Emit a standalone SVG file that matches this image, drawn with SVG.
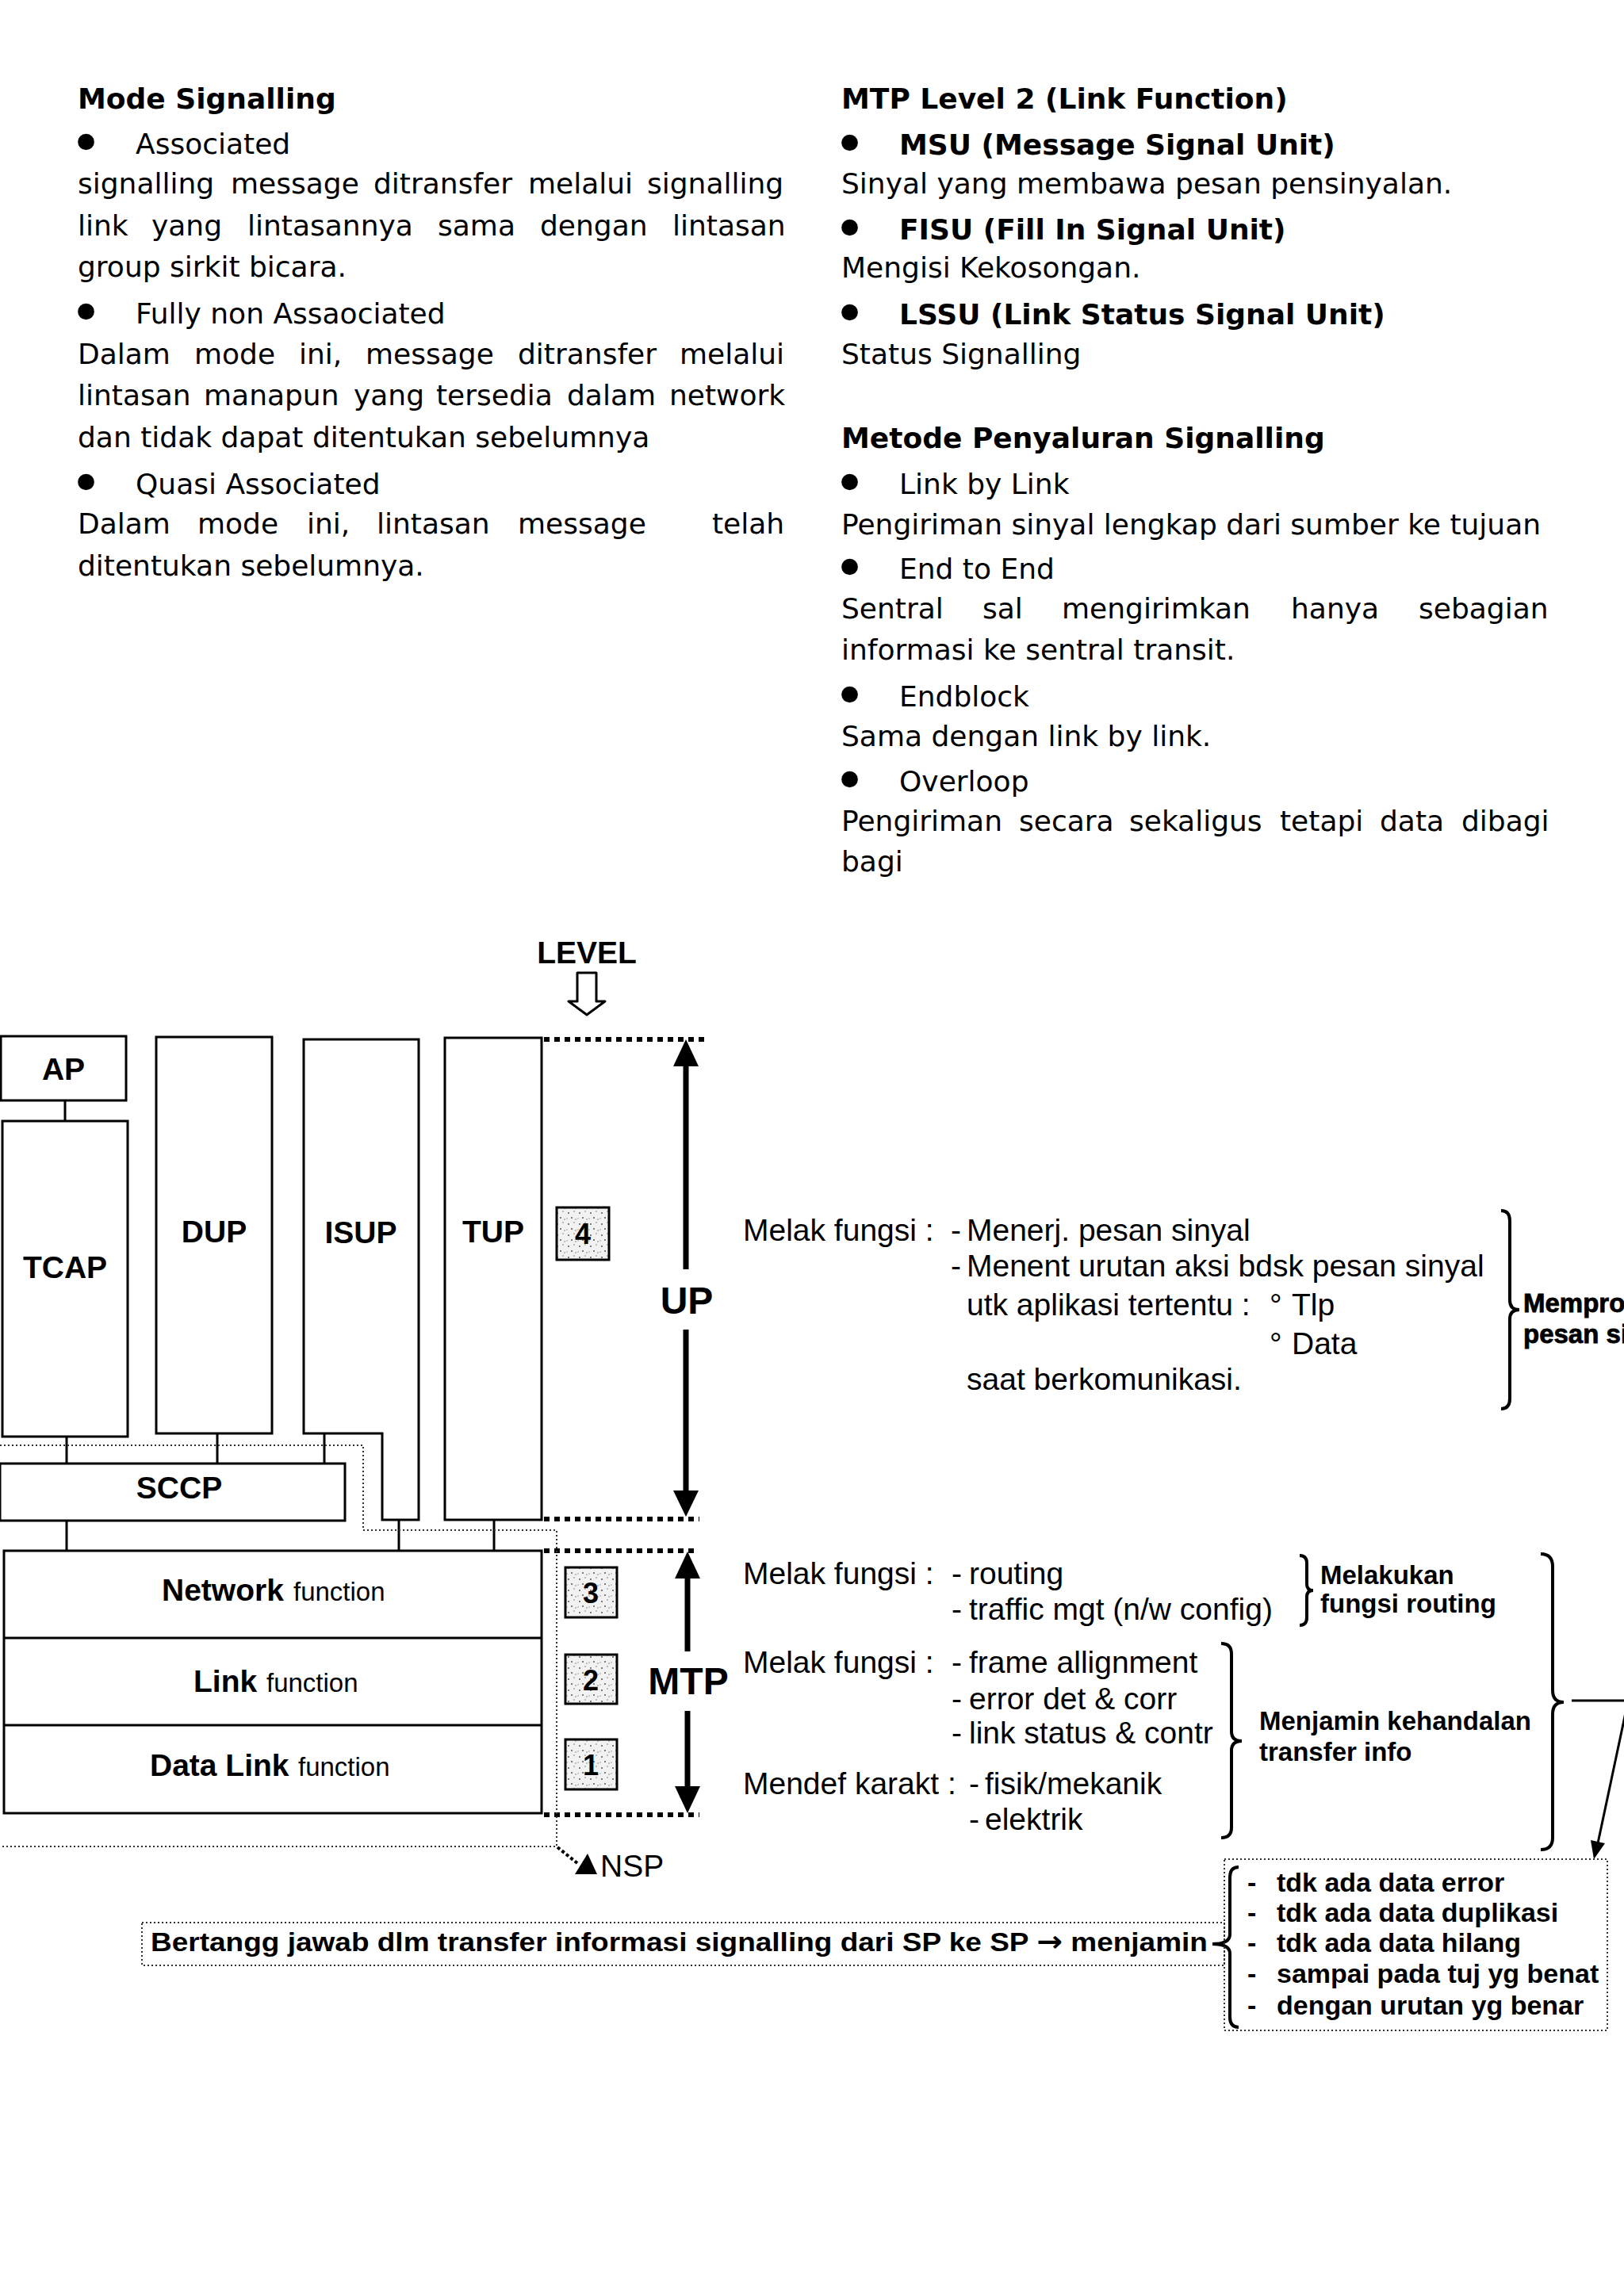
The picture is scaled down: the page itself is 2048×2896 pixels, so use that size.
<svg xmlns="http://www.w3.org/2000/svg" width="2048" height="2896" viewBox="0 0 2048 2896">
<defs>
<pattern id="stip" width="14" height="14" patternUnits="userSpaceOnUse">
<rect width="14" height="14" fill="#f2f2f2"/>
<circle cx="3" cy="4" r="1" fill="#555"/>
<circle cx="10" cy="2" r="0.8" fill="#777"/>
<circle cx="7" cy="10" r="1" fill="#555"/>
<circle cx="12" cy="12" r="0.8" fill="#777"/>
<circle cx="1" cy="11" r="0.7" fill="#888"/>
</pattern>
</defs>
<style>
.doc{font-family:"DejaVu Sans",sans-serif;font-size:36px;fill:#000}
.docb{font-family:"DejaVu Sans",sans-serif;font-size:36px;font-weight:bold;fill:#000}
.bul{font-family:"DejaVu Sans",sans-serif;font-size:56px;fill:#000;stroke:#000;stroke-width:4.5}
.box{fill:#fff;stroke:#000;stroke-width:3}
.lbl{font-family:"Liberation Sans",Arial,sans-serif;font-weight:bold;font-size:39px;text-anchor:middle;fill:#000}
.big{font-family:"Liberation Sans",Arial,sans-serif;font-weight:bold;font-size:48px;text-anchor:middle;fill:#000}
.fb{font-family:"Liberation Sans",Arial,sans-serif;font-weight:bold;font-size:39px;fill:#000}
.fr{font-family:"Liberation Sans",Arial,sans-serif;font-size:33px;fill:#000}
.ann{font-family:"Liberation Sans",Arial,sans-serif;font-size:39px;fill:#000}
.annb{font-family:"Liberation Sans",Arial,sans-serif;font-weight:bold;font-size:33px;fill:#000}
.lst{font-family:"Liberation Sans",Arial,sans-serif;font-weight:bold;font-size:34px;fill:#000}
.con{stroke:#000;stroke-width:3;fill:none}
.lvl{stroke:#000;stroke-width:6;stroke-dasharray:7 6;fill:none}
.dot{stroke:#333;stroke-width:2;stroke-dasharray:2 3;fill:none}
.brace{stroke:#000;stroke-width:4;fill:none}
.shaft{stroke:#000;stroke-width:7}
.num{fill:url(#stip);stroke:#000;stroke-width:3}
.numt{font-family:"Liberation Sans",Arial,sans-serif;font-weight:bold;font-size:36px;text-anchor:middle;fill:#000}
</style>
<rect width="2048" height="2896" fill="#fff"/>

<g id="text-mode-signalling">
<text class="docb" x="98" y="137">Mode Signalling</text>
<text class="bul" x="92" y="200">•</text>
<text class="doc" x="171" y="194">Associated</text>
<text class="doc" y="244"><tspan x="98">signalling</tspan><tspan x="291">message</tspan><tspan x="471">ditransfer</tspan><tspan x="666">melalui</tspan><tspan x="816">signalling</tspan></text>
<text class="doc" y="297"><tspan x="98">link</tspan><tspan x="191">yang</tspan><tspan x="312">lintasannya</tspan><tspan x="552">sama</tspan><tspan x="681">dengan</tspan><tspan x="848">lintasan</tspan></text>
<text class="doc" x="98" y="349">group sirkit bicara.</text>
<text class="bul" x="92" y="414">•</text>
<text class="doc" x="171" y="408">Fully non Assaociated</text>
<text class="doc" y="459"><tspan x="98">Dalam</tspan><tspan x="245">mode</tspan><tspan x="377">ini,</tspan><tspan x="461">message</tspan><tspan x="653">ditransfer</tspan><tspan x="857">melalui</tspan></text>
<text class="doc" y="511"><tspan x="98">lintasan</tspan><tspan x="257">manapun</tspan><tspan x="446">yang</tspan><tspan x="550">tersedia</tspan><tspan x="715">dalam</tspan><tspan x="844">network</tspan></text>
<text class="doc" x="98" y="564">dan tidak dapat ditentukan sebelumnya</text>
<text class="bul" x="92" y="629">•</text>
<text class="doc" x="171" y="623">Quasi Associated</text>
<text class="doc" y="673"><tspan x="98">Dalam</tspan><tspan x="249">mode</tspan><tspan x="387">ini,</tspan><tspan x="475">lintasan</tspan><tspan x="653">message</tspan><tspan x="898">telah</tspan></text>
<text class="doc" x="98" y="726">ditentukan sebelumnya.</text>
</g>

<g id="text-mtp-level2">
<text class="docb" x="1061" y="137">MTP Level 2 (Link Function)</text>
<text class="bul" x="1055" y="201">•</text>
<text class="docb" x="1134" y="195">MSU (Message Signal Unit)</text>
<text class="doc" x="1061" y="244">Sinyal yang membawa pesan pensinyalan.</text>
<text class="bul" x="1055" y="308">•</text>
<text class="docb" x="1134" y="302">FISU (Fill In Signal Unit)</text>
<text class="doc" x="1061" y="350">Mengisi Kekosongan.</text>
<text class="bul" x="1055" y="415">•</text>
<text class="docb" x="1134" y="409">LSSU (Link Status Signal Unit)</text>
<text class="doc" x="1061" y="459">Status Signalling</text>
</g>

<g id="text-metode">
<text class="docb" x="1061" y="565">Metode Penyaluran Signalling</text>
<text class="bul" x="1055" y="629">•</text>
<text class="doc" x="1134" y="623">Link by Link</text>
<text class="doc" x="1061" y="674">Pengiriman sinyal lengkap dari sumber ke tujuan</text>
<text class="bul" x="1055" y="736">•</text>
<text class="doc" x="1134" y="730">End to End</text>
<text class="doc" y="780"><tspan x="1061">Sentral</tspan><tspan x="1239">sal</tspan><tspan x="1339">mengirimkan</tspan><tspan x="1628">hanya</tspan><tspan x="1789">sebagian</tspan></text>
<text class="doc" x="1061" y="832">informasi ke sentral transit.</text>
<text class="bul" x="1055" y="897">•</text>
<text class="doc" x="1134" y="891">Endblock</text>
<text class="doc" x="1061" y="941">Sama dengan link by link.</text>
<text class="bul" x="1055" y="1004">•</text>
<text class="doc" x="1134" y="998">Overloop</text>
<text class="doc" y="1048"><tspan x="1061">Pengiriman</tspan><tspan x="1285">secara</tspan><tspan x="1424">sekaligus</tspan><tspan x="1614">tetapi</tspan><tspan x="1740">data</tspan><tspan x="1843">dibagi</tspan></text>
<text class="doc" x="1061" y="1099">bagi</text>
</g>

<!-- connectors -->
<g id="connectors">
<line class="con" x1="82" y1="1388" x2="82" y2="1414"/>
<line class="con" x1="84" y1="1812" x2="84" y2="1846"/>
<line class="con" x1="274" y1="1808" x2="274" y2="1846"/>
<line class="con" x1="409" y1="1808" x2="409" y2="1846"/>
<line class="con" x1="84" y1="1918" x2="84" y2="1956"/>
<line class="con" x1="503" y1="1917" x2="503" y2="1956"/>
<line class="con" x1="623" y1="1917" x2="623" y2="1956"/>
<!-- level boundaries -->
<line class="lvl" x1="686" y1="1311" x2="892" y2="1311"/>
<line class="lvl" x1="686" y1="1916" x2="882" y2="1916"/>
<line class="lvl" x1="686" y1="1956" x2="876" y2="1956"/>
<line class="lvl" x1="686" y1="2289" x2="882" y2="2289"/>
<!-- NSP grouping -->
<polyline class="dot" points="0,1823 458,1823 458,1930 702,1930 702,2329 0,2329"/>
<line x1="703" y1="2330" x2="728" y2="2350" stroke="#000" stroke-width="4" stroke-dasharray="4 3"/>
<polygon points="725,2364 753,2364 741,2338" fill="#000"/>
<!-- UP arrows -->
<line class="shaft" x1="865" y1="1340" x2="865" y2="1601"/>
<polygon points="865,1311 849,1345 881,1345" fill="#000"/>
<line class="shaft" x1="865" y1="1677" x2="865" y2="1884"/>
<polygon points="849,1880 881,1880 865,1913" fill="#000"/>
<!-- MTP arrows -->
<line class="shaft" x1="867" y1="1986" x2="867" y2="2083"/>
<polygon points="867,1957 851,1991 883,1991" fill="#000"/>
<line class="shaft" x1="867" y1="2158" x2="867" y2="2257"/>
<polygon points="851,2253 883,2253 867,2287" fill="#000"/>
<!-- LEVEL hollow arrow -->
<polygon points="728,1227 752,1227 752,1263 763,1263 740,1280 717,1263 728,1263" fill="#fff" stroke="#000" stroke-width="3" stroke-linejoin="round"/>
<!-- braces -->
<path class="brace" d="M1893 1527 Q1904 1527 1904 1540 L1904 1640 Q1904 1652 1916 1652 Q1904 1652 1904 1664 L1904 1764 Q1904 1777 1893 1777"/>
<path class="brace" d="M1639 1962 Q1648 1962 1648 1972 L1648 1998 Q1648 2006 1656 2006 Q1648 2006 1648 2014 L1648 2040 Q1648 2050 1639 2050" stroke-width="3"/>
<path class="brace" d="M1540 2073 Q1553 2073 1553 2086 L1553 2184 Q1553 2196 1566 2196 Q1553 2196 1553 2208 L1553 2305 Q1553 2318 1540 2318" stroke-width="3.5"/>
<path class="brace" d="M1943 1960 Q1958 1960 1958 1976 L1958 2132 Q1958 2147 1972 2147 Q1958 2147 1958 2162 L1958 2318 Q1958 2333 1943 2333"/>
<path class="brace" d="M1562 2355 Q1551 2355 1551 2368 L1551 2440 Q1551 2452 1529 2452 Q1551 2452 1551 2464 L1551 2544 Q1551 2557 1562 2557" stroke-width="3"/>
<line class="con" x1="1982" y1="2145" x2="2048" y2="2145"/>
<line class="con" x1="2050" y1="2160" x2="2015" y2="2325"/>
<polygon points="2010,2345 2024,2325 2006,2321" fill="#000"/>
</g>

<g id="node-ap"><rect class="box" x="1" y="1307" width="158" height="81"/><text class="lbl" x="80" y="1362">AP</text></g>
<g id="node-tcap"><rect class="box" x="3" y="1414" width="158" height="398"/><text class="lbl" x="82" y="1612">TCAP</text></g>
<g id="node-dup"><rect class="box" x="197" y="1308" width="146" height="500"/><text class="lbl" x="270" y="1567">DUP</text></g>
<g id="node-isup"><polygon class="box" points="383,1311 528,1311 528,1917 482,1917 482,1808 383,1808"/><text class="lbl" x="455" y="1568">ISUP</text></g>
<g id="node-tup"><rect class="box" x="561" y="1309" width="122" height="608"/><text class="lbl" x="622" y="1567">TUP</text></g>
<g id="node-sccp"><rect class="box" x="0" y="1846" width="435" height="72"/><text class="lbl" x="226" y="1890">SCCP</text></g>
<g id="node-mtp">
<rect class="box" x="5" y="1956" width="678" height="331"/>
<line class="con" x1="5" y1="2066" x2="683" y2="2066"/>
<line class="con" x1="5" y1="2176" x2="683" y2="2176"/>
<text y="2019"><tspan class="fb" x="204">Network</tspan><tspan class="fr" x="370">function</tspan></text>
<text y="2134"><tspan class="fb" x="244">Link</tspan><tspan class="fr" x="336">function</tspan></text>
<text y="2240"><tspan class="fb" x="189">Data Link</tspan><tspan class="fr" x="376">function</tspan></text>
</g>

<g id="level-labels">
<text class="lbl" x="740" y="1215">LEVEL</text>
<rect class="num" x="702" y="1523" width="66" height="66"/><text class="numt" x="735" y="1569">4</text>
<rect class="num" x="713" y="1977" width="65" height="63"/><text class="numt" x="745" y="2022">3</text>
<rect class="num" x="713" y="2087" width="65" height="62"/><text class="numt" x="745" y="2132">2</text>
<rect class="num" x="713" y="2194" width="65" height="63"/><text class="numt" x="745" y="2239">1</text>
<text class="big" x="866" y="1657">UP</text>
<text class="big" x="868" y="2137">MTP</text>
<text class="ann" x="757" y="2367" font-size="42">NSP</text>
</g>

<g id="up-functions">
<text class="ann" x="937" y="1565">Melak fungsi :</text>
<text class="ann" x="1199" y="1565">-</text><text class="ann" x="1219" y="1565">Menerj. pesan sinyal</text>
<text class="ann" x="1199" y="1610">-</text><text class="ann" x="1219" y="1610">Menent urutan aksi bdsk pesan sinyal</text>
<text class="ann" x="1219" y="1659">utk aplikasi tertentu :</text>
<text class="ann" x="1601" y="1659">°</text><text class="ann" x="1629" y="1659">Tlp</text>
<text class="ann" x="1601" y="1708">°</text><text class="ann" x="1629" y="1708">Data</text>
<text class="ann" x="1219" y="1753">saat berkomunikasi.</text>
<text class="annb" x="1921" y="1655" font-size="31" stroke="#000" stroke-width="0.8">Mempro</text>
<text class="annb" x="1921" y="1694" font-size="31" stroke="#000" stroke-width="0.8">pesan si</text>
</g>

<g id="mtp-functions">
<text class="ann" x="937" y="1998">Melak fungsi :</text>
<text class="ann" x="1200" y="1998">-</text><text class="ann" x="1222" y="1998">routing</text>
<text class="ann" x="1200" y="2043">-</text><text class="ann" x="1222" y="2043">traffic mgt (n/w config)</text>
<text class="annb" x="1665" y="1998">Melakukan</text>
<text class="annb" x="1665" y="2034">fungsi routing</text>
<text class="ann" x="937" y="2110">Melak fungsi :</text>
<text class="ann" x="1200" y="2110">-</text><text class="ann" x="1222" y="2110">frame allignment</text>
<text class="ann" x="1200" y="2156">-</text><text class="ann" x="1222" y="2156">error det &amp; corr</text>
<text class="ann" x="1200" y="2199">-</text><text class="ann" x="1222" y="2199">link status &amp; contr</text>
<text class="ann" x="937" y="2263">Mendef karakt :</text>
<text class="ann" x="1222" y="2263">-</text><text class="ann" x="1242" y="2263">fisik/mekanik</text>
<text class="ann" x="1222" y="2308">-</text><text class="ann" x="1242" y="2308">elektrik</text>
<text class="annb" x="1588" y="2182">Menjamin kehandalan</text>
<text class="annb" x="1588" y="2221">transfer info</text>
</g>

<g id="node-bertangg">
<rect class="dot" x="179" y="2425" width="1365" height="54"/>
<text class="lst" x="190" y="2461" font-size="37" textLength="1333" lengthAdjust="spacingAndGlyphs">Bertangg jawab dlm transfer informasi signalling dari SP ke SP <tspan font-family="DejaVu Sans" font-size="36">→</tspan> menjamin</text>
</g>

<g id="node-menjamin-list">
<rect class="dot" x="1544" y="2345" width="483" height="216"/>
<text class="lst" x="1573" y="2386">-</text><text class="lst" x="1610" y="2386">tdk ada data error</text>
<text class="lst" x="1573" y="2424">-</text><text class="lst" x="1610" y="2424">tdk ada data duplikasi</text>
<text class="lst" x="1573" y="2462">-</text><text class="lst" x="1610" y="2462">tdk ada data hilang</text>
<text class="lst" x="1573" y="2501">-</text><text class="lst" x="1610" y="2501">sampai pada tuj yg benat</text>
<text class="lst" x="1573" y="2541">-</text><text class="lst" x="1610" y="2541">dengan urutan yg benar</text>
</g>
</svg>
